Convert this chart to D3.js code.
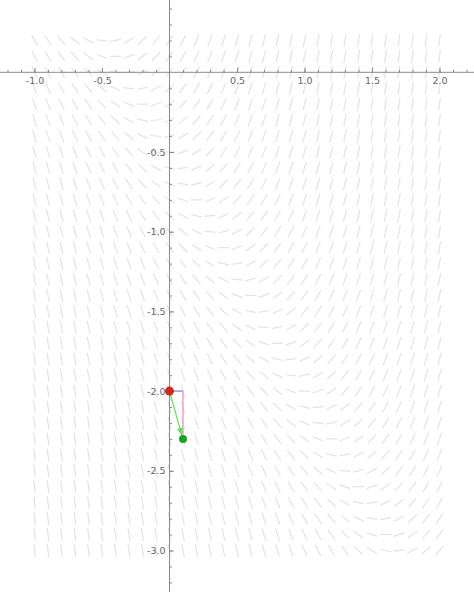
<!DOCTYPE html>
<html><head><meta charset="utf-8">
<script src="https://cdn.jsdelivr.net/npm/d3@7"></script>
<style>body{margin:0;background:#fff}svg{display:block}</style>
</head><body>
<script>
// Slope field of y' = 3x + 2y + 1 (coefficients read from isoclines and the Euler step)
const odeCoefficients = [3, 2, 1]; // a*x + b*y + c
const xGrid = [-1.0,-0.9,-0.8,-0.7,-0.6,-0.5,-0.4,-0.3,-0.2,-0.1,0.0,0.1,0.2,0.3,0.4,0.5,0.6,0.7,0.8,0.9,1.0,1.1,1.2,1.3,1.4,1.5,1.6,1.7,1.8,1.9,2.0];
const yGrid = [0.2,0.1,0.0,-0.1,-0.2,-0.3,-0.4,-0.5,-0.6,-0.7,-0.8,-0.9,-1.0,-1.1,-1.2,-1.3,-1.4,-1.5,-1.6,-1.7,-1.8,-1.9,-2.0,-2.1,-2.2,-2.3,-2.4,-2.5,-2.6,-2.7,-2.8,-2.9,-3.0];
const xTickLabels = ["-1.0","-0.5","0.5","1.0","1.5","2.0"];
const xTickValues = [-1.0,-0.5,0.5,1.0,1.5,2.0];
const yTickLabels = ["-0.5","-1.0","-1.5","-2.0","-2.5","-3.0"];
const yTickValues = [-0.5,-1.0,-1.5,-2.0,-2.5,-3.0];
const xMinorTicks = [-1.2,-1.1,-1.0,-0.9,-0.8,-0.7,-0.6,-0.5,-0.4,-0.3,-0.2,-0.1,0.1,0.2,0.3,0.4,0.5,0.6,0.7,0.8,0.9,1.0,1.1,1.2,1.3,1.4,1.5,1.6,1.7,1.8,1.9,2.0,2.1,2.2];
const yMinorTicks = [0.4,0.3,0.2,0.1,-0.1,-0.2,-0.3,-0.4,-0.5,-0.6,-0.7,-0.8,-0.9,-1.0,-1.1,-1.2,-1.3,-1.4,-1.5,-1.6,-1.7,-1.8,-1.9,-2.0,-2.1,-2.2,-2.3,-2.4,-2.5,-2.6,-2.7,-2.8,-2.9,-3.0,-3.1,-3.2];
const eulerStart = [0, -2];
const eulerEnd = [0.1, -2.3];

const W = 474, H = 592;
const x = d3.scaleLinear().domain([-1.2556, 2.2556]).range([0, W]);
const y = d3.scaleLinear().domain([0.4536, -3.2604]).range([0, H]);

const svg = d3.select("body").append("svg").attr("width", W).attr("height", H);

// slope field
const f = (px, py) => odeCoefficients[0]*px + odeCoefficients[1]*py + odeCoefficients[2];
const L = 0.082;
const pts = [];
for (const yy of yGrid) for (const xx of xGrid) pts.push([xx, yy]);
svg.append("g").selectAll("line").data(pts).join("line")
  .attr("x1", d => { const s=f(d[0],d[1]); const n=Math.hypot(1,s); return x(d[0]-L/2/n); })
  .attr("x2", d => { const s=f(d[0],d[1]); const n=Math.hypot(1,s); return x(d[0]+L/2/n); })
  .attr("y1", d => { const s=f(d[0],d[1]); const n=Math.hypot(1,s); return y(d[1]-L/2*s/n); })
  .attr("y2", d => { const s=f(d[0],d[1]); const n=Math.hypot(1,s); return y(d[1]+L/2*s/n); })
  .attr("stroke", "#e3e3e3").attr("stroke-width", 1.2);

// axes
const axisColor = "#8a8a8a";
const gx = svg.append("g").attr("transform", `translate(0,${y(0)})`);
gx.append("line").attr("x1",0).attr("x2",W).attr("stroke",axisColor);
gx.append("g").call(d3.axisTop(x).tickValues(xMinorTicks).tickSize(2.5).tickFormat(""));
gx.append("g").call(d3.axisTop(x).tickValues(xTickValues).tickSize(4.5).tickFormat(""));
gx.append("g").call(d3.axisBottom(x).tickValues(xTickValues).tickSize(0).tickPadding(5)
   .tickFormat((d,i) => xTickLabels[i]));
const gy = svg.append("g").attr("transform", `translate(${x(0)},0)`);
gy.append("line").attr("y1",0).attr("y2",H).attr("stroke",axisColor);
gy.append("g").call(d3.axisRight(y).tickValues(yMinorTicks).tickSize(2.5).tickFormat(""));
gy.append("g").call(d3.axisRight(y).tickValues(yTickValues).tickSize(4.5).tickFormat(""));
gy.append("g").call(d3.axisLeft(y).tickValues(yTickValues).tickSize(0).tickPadding(4)
   .tickFormat((d,i) => yTickLabels[i]));
svg.selectAll(".domain").remove();
svg.selectAll(".tick line").attr("stroke", axisColor);
svg.selectAll(".tick text").attr("fill", "#666").style("font-family","'DejaVu Sans', sans-serif").style("font-size","9.5px");

// Euler step
svg.append("defs").append("marker").attr("id","ah").attr("viewBox","0 0 10 10")
  .attr("refX",9).attr("refY",5).attr("markerWidth",6).attr("markerHeight",6).attr("orient","auto")
  .append("path").attr("d","M0,1 L10,5 L0,9 Z").attr("fill","#66d966");
svg.append("line").attr("x1",x(eulerStart[0])).attr("y1",y(eulerStart[1]))
  .attr("x2",x(eulerEnd[0])).attr("y2",y(eulerStart[1])).attr("stroke","#6f93d6").attr("stroke-width",1.3);
svg.append("line").attr("x1",x(eulerEnd[0])).attr("y1",y(eulerStart[1]))
  .attr("x2",x(eulerEnd[0])).attr("y2",y(eulerEnd[1])).attr("stroke","#f29ac2").attr("stroke-width",1.4);
const ex = x(eulerEnd[0]) - 1.2, ey = y(eulerEnd[1]) - 4;
svg.append("line").attr("x1",x(eulerStart[0])).attr("y1",y(eulerStart[1]))
  .attr("x2",ex).attr("y2",ey).attr("stroke","#66d966").attr("stroke-width",1.3).attr("marker-end","url(#ah)");
svg.append("circle").attr("cx",x(eulerEnd[0])).attr("cy",y(eulerEnd[1])).attr("r",4).attr("fill","#1ea01e");
svg.append("circle").attr("cx",x(eulerStart[0])).attr("cy",y(eulerStart[1])).attr("r",4.5).attr("fill","#cc2a1e");
</script>
</body></html>
